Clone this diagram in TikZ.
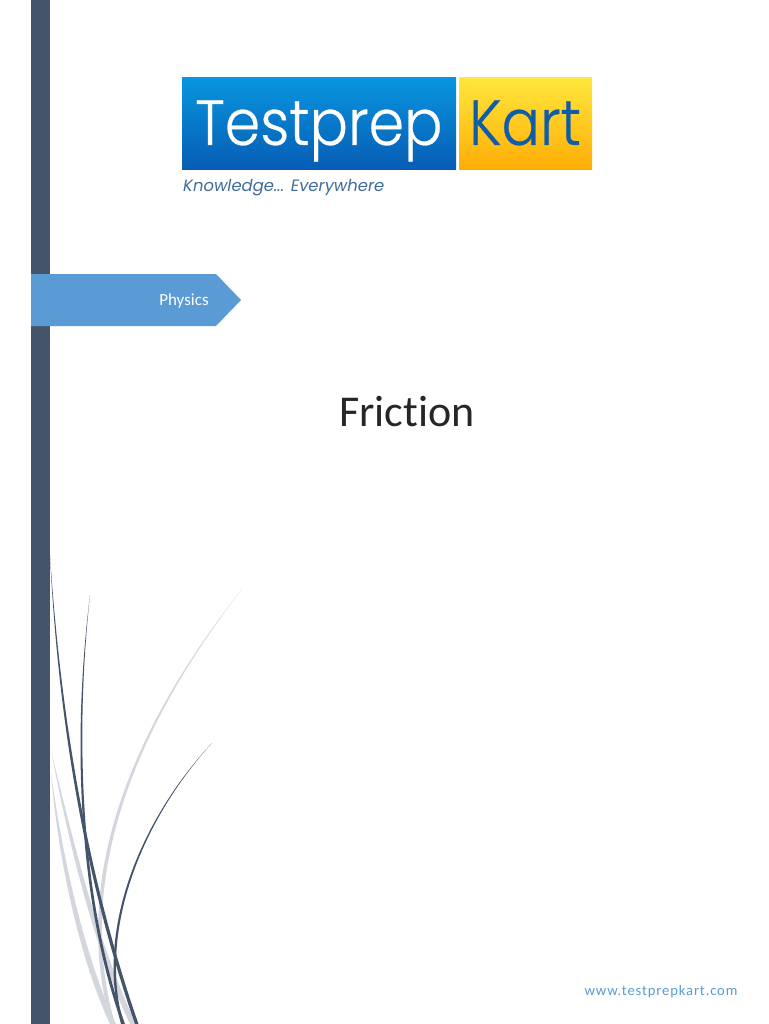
\documentclass[tikz,border=0pt]{standalone}
\usepackage{fontspec}
\setmainfont[Ligatures=NoCommon]{Carlito}
\newfontfamily\logofont[FakeStretch=0.89,FakeBold=0.4]{Poppins Light}
\newfontfamily\slogfont{Poppins}
\definecolor{barcol}{HTML}{44546A}
\definecolor{tabcol}{HTML}{5B9BD5}
\definecolor{wispcol}{HTML}{D3D7DD}
\definecolor{logotop}{HTML}{0895DE}
\definecolor{logobot}{HTML}{075CB4}
\definecolor{karttop}{HTML}{FFE63C}
\definecolor{kartbot}{HTML}{FFAD05}
\definecolor{kartblue}{HTML}{0F5DA8}
\definecolor{slogcol}{HTML}{3F6C9E}
\tikzset{
    logotext/.style = {inner sep=0pt,anchor=base west},
    % tapered stroke: tip, two controls, foot
    wisp/.style = {fill=#1,draw=none}
}
\usetikzlibrary{calc}
\newcommand{\wispline}[6]{%
    \fill[wisp=#1] #2 .. controls #3 and #4 .. #5 -- ++(#6,0) .. controls ($#4+(#6*0.95,0)$) and ($#3+(#6*0.8,0)$) .. #2 -- cycle;
}
\begin{document}
\begin{tikzpicture}[x=1pt,y=-1pt]
    \useasboundingbox (0,0) rectangle (768,1024);
    \fill[white] (0,0) rectangle (768,1024);
    \fill[barcol] (31,0) rectangle (50,1024);
    \fill[tabcol] (31,274) -- (216,274) -- (241,300) -- (216,326) -- (31,326) -- cycle;
    \node[text=white,font=\fontsize{17}{20}\selectfont] (subject) at (184,301) {Physics};
    \node[text=black!85,font=\fontsize{44}{52}\selectfont] (title) at (407,412) {Friction};
    \node[text=tabcol,font=\fontsize{14.6}{17}\selectfont,anchor=east] (site) at (741,992) {\addfontfeature{LetterSpace=6}www.testprepkart.com};
    % logo
    \shade[top color=logotop,bottom color=logobot] (182,78) rectangle (456,170);
    \shade[top color=karttop,bottom color=kartbot] (459,78) rectangle (592,170);
    \node[logotext,text=white,font=\logofont\fontsize{64}{70}\selectfont] (testprep) at (195,145) {Testprep};
    \node[logotext,text=kartblue,font=\logofont\fontsize{64}{70}\selectfont] (kart) at (469,145) {Kart};
    \node[logotext,text=slogcol,font=\slogfont\itshape\fontsize{16.4}{18}\selectfont] (slogan) at (183,192) {Knowledge... Everywhere};
    % pale wisps first, dark ones on top
    \wispline{wispcol}{(51,750)}{(70,850)}{(95,950)}{(130,1024)}{6}
    \wispline{wispcol}{(51,773)}{(58,860)}{(80,960)}{(110,1024)}{6}
    \wispline{wispcol}{(242,589)}{(130,730)}{(70,880)}{(111,1024)}{4}
    \wispline{barcol}{(50,555)}{(58,720)}{(85,880)}{(135,1024)}{3.5}
    \wispline{barcol}{(90,595)}{(72,740)}{(78,900)}{(122,1024)}{3}
    \wispline{barcol}{(212,743)}{(140,820)}{(95,930)}{(121,1024)}{2.5}
\end{tikzpicture}
\end{document}
